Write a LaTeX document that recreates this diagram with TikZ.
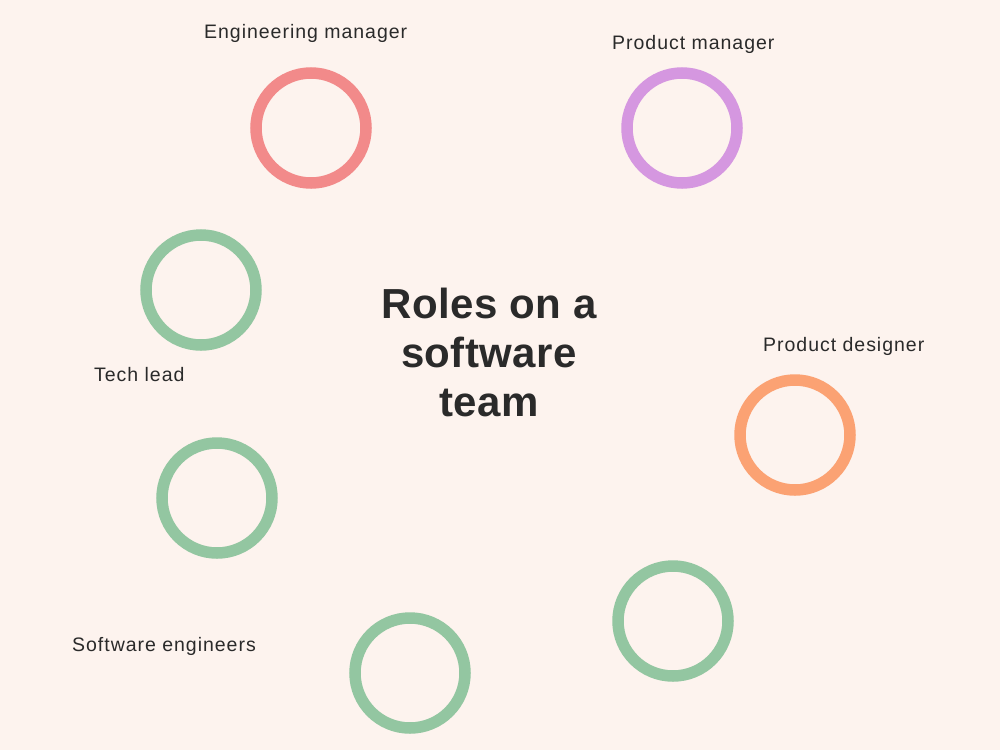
\documentclass[tikz,border=0pt]{standalone}
\usepackage{fontspec}
\setmainfont{Liberation Sans}[LetterSpace=5]
\newfontfamily\titlefont{Liberation Sans}[LetterSpace=1]
\definecolor{bg}{HTML}{FDF3EE}
\definecolor{txt}{HTML}{2A2A2A}
\definecolor{emred}{HTML}{F28A8A}
\definecolor{pmpurple}{HTML}{D597E0}
\definecolor{sgreen}{HTML}{93C6A1}
\definecolor{dorange}{HTML}{FBA273}
\tikzset{
  ring/.style={circle, draw=#1, line width=11.5pt, minimum size=110pt, inner sep=0pt},
  lbl/.style={anchor=base west, inner sep=0pt, text=txt, font=\fontsize{19.5}{22}\selectfont},
}
\begin{document}
\begin{tikzpicture}[x=1pt,y=-1pt]
\fill[bg] (0,0) rectangle (1000,750);
\useasboundingbox (0,0) rectangle (1000,750);
\node[ring=emred] (em) at (311,128) {};
\node[ring=pmpurple] (pm) at (682,128) {};
\node[ring=sgreen] (tl) at (201,290) {};
\node[ring=dorange] (pd) at (795,435) {};
\node[ring=sgreen] (se1) at (217,498) {};
\node[ring=sgreen] (se2) at (410,673) {};
\node[ring=sgreen] (se3) at (673,621) {};
\node[lbl] (emlbl) at (204,38) {Engineering manager};
\node[lbl] (pmlbl) at (612,49) {Product manager};
\node[lbl] (tllbl) at (94,381) {Tech lead};
\node[lbl] (pdlbl) at (763,351) {Product designer};
\node[lbl] (selbl) at (72,651) {Software engineers};
\node[align=center, text=txt, inner sep=0pt, font=\titlefont\bfseries\fontsize{42}{49}\selectfont] (title) at (489,352) {Roles on a\\software\\team};
\end{tikzpicture}
\end{document}
